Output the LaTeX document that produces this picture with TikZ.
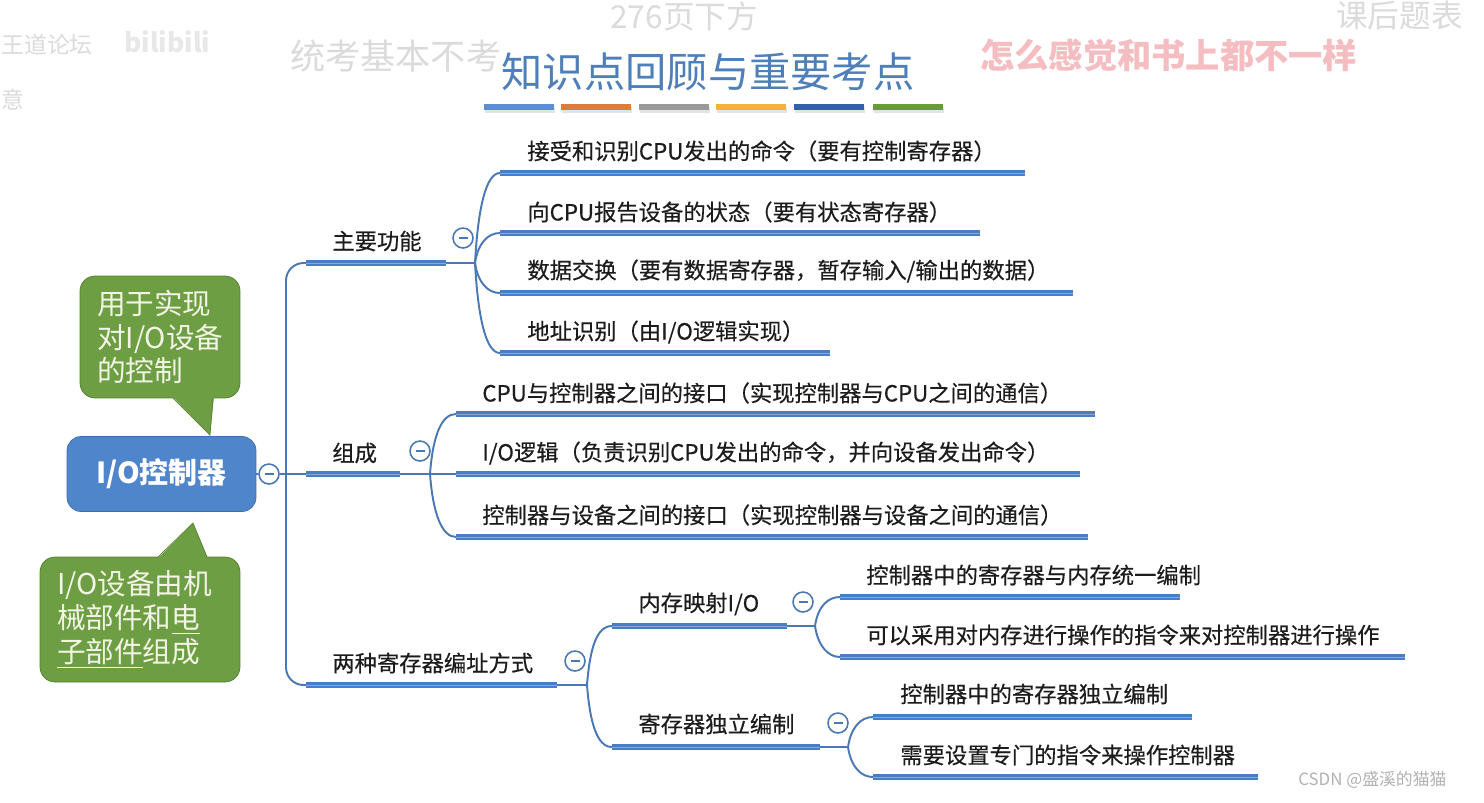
\documentclass[tikz,border=0pt]{standalone}
\usepackage{fontspec}
\setmainfont{Noto Sans CJK SC}
\newfontfamily\leaffont{Noto Sans CJK SC}[FakeBold=0.35]
\usetikzlibrary{positioning}

\definecolor{linecol}{HTML}{4A78B5}
\definecolor{barcol}{HTML}{4A7EC2}
\definecolor{barmid}{HTML}{86A9D9}
\definecolor{textcol}{HTML}{1C1C1C}
\definecolor{hubfill}{HTML}{4F85CB}
\definecolor{hubline}{HTML}{3F6FAE}
\definecolor{notefill}{HTML}{6E9E44}
\definecolor{noteline}{HTML}{55802F}
\definecolor{notetext}{HTML}{F2F4E4}
\definecolor{titleblue}{HTML}{4F7FB8}
\definecolor{barA}{HTML}{5B8FCF}
\definecolor{barB}{HTML}{E07B3A}
\definecolor{barC}{HTML}{9A9A9A}
\definecolor{barD}{HTML}{F5B335}
\definecolor{barE}{HTML}{3460A8}
\definecolor{barF}{HTML}{6A9A40}
\definecolor{wmpink}{HTML}{F4BDC1}

\begin{document}
\begin{tikzpicture}[
  x=0.02cm, y=-0.02cm,
  conn/.style={draw=linecol, line width=1.1pt},
  bar/.style={draw=barcol, line width=1.55pt, double=barmid, double distance=0.4pt},
  leaf/.style={anchor=west, inner sep=0pt, text=textcol,
               font=\leaffont\fontsize{12.7}{15}\selectfont},
  knob/.style={circle, draw=linecol, line width=0.9pt, fill=white,
               minimum size=0.4cm, inner sep=0pt,
               path picture={\draw[linecol, line width=0.9pt]
                 ([xshift=-0.09cm]path picture bounding box.center) --
                 ([xshift=0.09cm]path picture bounding box.center);}},
  hubbox/.style={draw=hubline, fill=hubfill, rounded corners=0.28cm,
                 minimum width=3.78cm, minimum height=1.5cm, text=white,
                 font=\fontsize{16.5}{19}\selectfont\bfseries},
  notebox/.style={draw=noteline, fill=notefill, rounded corners=0.3cm,
                  text=notetext, align=left, inner xsep=0.34cm,
                  font=\fontsize{16.3}{19.2}\selectfont},
  wm/.style={inner sep=0pt, text=gray!28}
]
  \useasboundingbox[fill=white] (0,0) rectangle (1484,802);

  % watermarks of the video frame
  \node[wm, anchor=west, font=\fontsize{13}{16}\selectfont] (wm1) at (1,45) {王道论坛};
  \node[wm, anchor=west, text=gray!18, font=\fontsize{15}{18}\selectfont\bfseries] (wm2) at (124,42) {bilibili};
  \node[wm, anchor=west, font=\fontsize{13}{16}\selectfont] (wm3) at (1,100) {意};
  \node[wm, anchor=west, font=\fontsize{20}{24}\selectfont] (wm4) at (290,56) {统考基本不考};
  \node[wm, anchor=north west, font=\fontsize{18}{22}\selectfont] (wm5) at (610,1) {276页下方};
  \node[wm, anchor=north west, font=\fontsize{18}{22}\selectfont] (wm6) at (1336,1) {课后题表};
  \node[wm, anchor=west, text=wmpink, font=\fontsize{19.5}{23}\selectfont\bfseries] (wm7) at (980,55) {怎么感觉和书上都不一样};
  \node[wm, anchor=west, text=gray!60, font=\fontsize{9.6}{12}\selectfont] (wm8) at (1298,780) {CSDN @盛溪的猫猫};

  % title
  \node[text=titleblue, font=\fontsize{23.5}{28}\selectfont] (title) at (708,72) {知识点回顾与重要考点};
  \foreach \xs/\col in {484/barA, 561/barB, 639/barC, 716/barD, 794/barE, 873/barF} {
    \draw[line width=3.6pt, gray!22] (\xs+1,110) -- (\xs+71,110);
    \draw[line width=3.6pt, \col] (\xs,107) -- (\xs+70,107);
  }

  % central topic and notes
  \node[hubbox] (hub) at (161.5,474) {I/O控制器};
  \node[knob] (k0) at (269,474) {};

  \node[notebox, minimum width=3.2cm, minimum height=2.44cm, text width=2.52cm] (note1) at (160,337)
    {用于实现\\对I/O设备\\的控制};
  \fill[notefill] (172,396) -- (210,435) -- (214,396) -- cycle;
  \draw[noteline, line width=0.4pt] (173,398) -- (210,435) -- (213,398);

  \node[notebox, minimum width=4cm, minimum height=2.5cm, text width=3.32cm] (note2) at (140,619.5)
    {I/O设备由机\\械部件和\underline{电}\\\underline{子部件}组成};
  \fill[notefill] (157,559) -- (193,523) -- (208,559) -- cycle;
  \draw[noteline, line width=0.4pt] (158,557) -- (193,523) -- (207,557);

  % main trunk
  \coordinate (j0) at (286,474);
  \coordinate (b1s) at (306,263);
  \coordinate (b2s) at (306,474);
  \coordinate (b3s) at (306,685);
  \draw[conn] (hub.east) -- (k0.west);
  \draw[conn] (k0.east) -- (j0);
  \draw[conn, rounded corners=10] (j0) |- (b1s);
  \draw[conn] (j0) -- (b2s);
  \draw[conn, rounded corners=10] (j0) |- (b3s);

  % branch 1
  \node[leaf] (t1) at (332,241) {主要功能};
  \coordinate (b1e) at (446,263);
  \coordinate (j1) at (475,263);
  \node[knob] (k1) at (463,238) {};
  \draw[bar] (b1s) -- (b1e);
  \draw[conn] (b1e) -- (j1);
  \coordinate (s11) at (500,173); \coordinate (e11) at (1025,173);
  \coordinate (s12) at (500,233); \coordinate (e12) at (980,233);
  \coordinate (s13) at (500,293); \coordinate (e13) at (1073,293);
  \coordinate (s14) at (500,353); \coordinate (e14) at (830,353);
  \draw[conn] (j1) .. controls +(3,-55) and +(-14,0) .. (s11);
  \draw[conn] (j1) .. controls +(3,-20) and +(-12,0) .. (s12);
  \draw[conn] (j1) .. controls +(3,20) and +(-12,0) .. (s13);
  \draw[conn] (j1) .. controls +(3,55) and +(-14,0) .. (s14);
  \draw[bar] (s11) -- (e11);
  \draw[bar] (s12) -- (e12);
  \draw[bar] (s13) -- (e13);
  \draw[bar] (s14) -- (e14);
  \node[leaf] (t11) at (527,151) {接受和识别CPU发出的命令（要有控制寄存器）};
  \node[leaf] (t12) at (527,212) {向CPU报告设备的状态（要有状态寄存器）};
  \node[leaf] (t13) at (527,271) {数据交换（要有数据寄存器，暂存输入/输出的数据）};
  \node[leaf] (t14) at (527,332) {地址识别（由I/O逻辑实现）};

  % branch 2
  \node[leaf] (t2) at (332,453) {组成};
  \coordinate (b2e) at (400,474);
  \coordinate (j2) at (430,474);
  \node[knob] (k2) at (420,451) {};
  \draw[bar] (b2s) -- (b2e);
  \draw[conn] (b2e) -- (j2);
  \coordinate (s21) at (456,414); \coordinate (e21) at (1095,414);
  \coordinate (s22) at (456,474); \coordinate (e22) at (1080,474);
  \coordinate (s23) at (456,537); \coordinate (e23) at (1088,537);
  \draw[conn] (j2) .. controls +(3,-40) and +(-14,0) .. (s21);
  \draw[conn] (j2) -- (s22);
  \draw[conn] (j2) .. controls +(3,40) and +(-14,0) .. (s23);
  \draw[bar] (s21) -- (e21);
  \draw[bar] (s22) -- (e22);
  \draw[bar] (s23) -- (e23);
  \node[leaf] (t21) at (482,393) {CPU与控制器之间的接口（实现控制器与CPU之间的通信）};
  \node[leaf] (t22) at (482,453) {I/O逻辑（负责识别CPU发出的命令，并向设备发出命令）};
  \node[leaf] (t23) at (482,515) {控制器与设备之间的接口（实现控制器与设备之间的通信）};

  % branch 3
  \node[leaf] (t3) at (332,663) {两种寄存器编址方式};
  \coordinate (b3e) at (557,685);
  \coordinate (j3) at (587,685);
  \node[knob] (k3) at (575,661) {};
  \draw[bar] (b3s) -- (b3e);
  \draw[conn] (b3e) -- (j3);
  \coordinate (s31) at (612,626); \coordinate (e31) at (787,626);
  \coordinate (s32) at (612,747); \coordinate (e32) at (820,747);
  \draw[conn] (j3) .. controls +(3,-38) and +(-15,0) .. (s31);
  \draw[conn] (j3) .. controls +(3,38) and +(-15,0) .. (s32);
  \draw[bar] (s31) -- (e31);
  \draw[bar] (s32) -- (e32);
  \node[leaf] (t31) at (638,604) {内存映射I/O};
  \node[leaf] (t32) at (638,724) {寄存器独立编制};

  % memory mapped
  \coordinate (j31) at (815,626);
  \node[knob] (k31) at (803,602) {};
  \draw[conn] (e31) -- (j31);
  \coordinate (s311) at (840,597); \coordinate (e311) at (1180,597);
  \coordinate (s312) at (840,657); \coordinate (e312) at (1405,657);
  \draw[conn] (j31) .. controls +(3,-20) and +(-12,0) .. (s311);
  \draw[conn] (j31) .. controls +(3,20) and +(-12,0) .. (s312);
  \draw[bar] (s311) -- (e311);
  \draw[bar] (s312) -- (e312);
  \node[leaf] (t311) at (866,575) {控制器中的寄存器与内存统一编制};
  \node[leaf] (t312) at (866,635) {可以采用对内存进行操作的指令来对控制器进行操作};

  % independent
  \coordinate (j32) at (848,747);
  \node[knob] (k32) at (838,723) {};
  \draw[conn] (e32) -- (j32);
  \coordinate (s321) at (873,717); \coordinate (e321) at (1192,717);
  \coordinate (s322) at (873,777); \coordinate (e322) at (1258,777);
  \draw[conn] (j32) .. controls +(3,-20) and +(-12,0) .. (s321);
  \draw[conn] (j32) .. controls +(3,20) and +(-12,0) .. (s322);
  \draw[bar] (s321) -- (e321);
  \draw[bar] (s322) -- (e322);
  \node[leaf] (t321) at (900,694) {控制器中的寄存器独立编制};
  \node[leaf] (t322) at (900,755) {需要设置专门的指令来操作控制器};
\end{tikzpicture}
\end{document}
